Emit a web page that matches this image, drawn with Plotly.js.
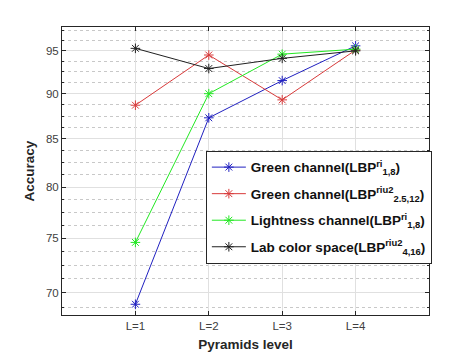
<!DOCTYPE html>
<html>
<head>
<meta charset="utf-8">
<script src="https://cdn.plot.ly/plotly-3.0.1.min.js"></script>
<style>html,body{margin:0;padding:0;background:#fff;}#chart{width:474px;height:355px;}</style>
</head>
<body>
<div id="chart"></div>
<script>
var levels = [1, 2, 3, 4];
var levelLabels = ["L=1", "L=2", "L=3", "L=4"];
var yTicks = [70, 75, 80, 85, 90, 95];

var seriesNames = [
  "Green channel(LBP<sup>ri</sup><sub>1,8</sub>)",
  "Green channel(LBP<sup>riu2</sup><sub>2.5,12</sub>)",
  "Lightness channel(LBP<sup>ri</sup><sub>1,8</sub>)",
  "Lab color space(LBP<sup>riu2</sup><sub>4,16</sub>)"
];
var greenRi = [69.0, 87.3, 91.5, 95.6];
var greenRiu2 = [88.7, 94.5, 89.3, 95.1];
var lightnessRi = [74.6, 90.0, 94.6, 95.2];
var labRiu2 = [95.3, 92.9, 94.1, 95.0];
var seriesColors = ["#2020c0", "#d83a3a", "#22e822", "#202020"];

var allValues = [greenRi, greenRiu2, lightnessRi, labRiu2];
var traces = allValues.map(function (vals, i) {
  return {
    x: levels, y: vals, name: seriesNames[i], legendgroup: "g" + i, type: "scatter", mode: "lines+markers",
    line: {color: seriesColors[i], width: 1},
    marker: {symbol: "asterisk-open", size: 8, color: seriesColors[i], line: {color: seriesColors[i], width: 1}}
  };
});

var layout = {
  width: 474, height: 355,
  margin: {l: 62, r: 45, t: 27, b: 40},
  paper_bgcolor: "#ffffff", plot_bgcolor: "#ffffff",
  font: {family: "Liberation Sans, Arial, sans-serif", color: "#404040", size: 11.5},
  showlegend: true,
  legend: {
    x: 0.392, y: 0.57, xanchor: "left", yanchor: "top",
    bgcolor: "#ffffff", bordercolor: "#262626", borderwidth: 1,
    font: {size: 13.5, color: "#111111", weight: "bold"},
    tracegroupgap: 6, itemwidth: 34
  },
  xaxis: {
    range: [0, 5], tickvals: levels, ticktext: levelLabels,
    showgrid: true, gridcolor: "#e0e0e0", gridwidth: 1,
    zeroline: false, showline: true, linecolor: "#262626", linewidth: 1, mirror: "ticks",
    ticks: "inside", ticklen: 4, tickcolor: "#262626",
    title: {text: "Pyramids level", font: {size: 13.5, color: "#262626", weight: "bold"}, standoff: 8}
  },
  yaxis: {
    type: "log",
    range: [Math.log10(68.07), Math.log10(97.9)],
    tickvals: yTicks, ticktext: yTicks.map(String),
    showgrid: true, gridcolor: "#e0e0e0", gridwidth: 1,
    zeroline: false, showline: true, linecolor: "#262626", linewidth: 1, mirror: "ticks",
    ticks: "inside", ticklen: 4, tickcolor: "#262626",
    minor: {dtick: "L1.25", tick0: 70, showgrid: true, gridcolor: "#c8c8c8", griddash: "dot", ticks: "inside", ticklen: 2, tickcolor: "#262626"},
    title: {text: "Accuracy", font: {size: 13.5, color: "#262626", weight: "bold"}, standoff: 8}
  }
};

Plotly.newPlot("chart", traces, layout, {displayModeBar: false, staticPlot: true});
</script>
</body>
</html>
